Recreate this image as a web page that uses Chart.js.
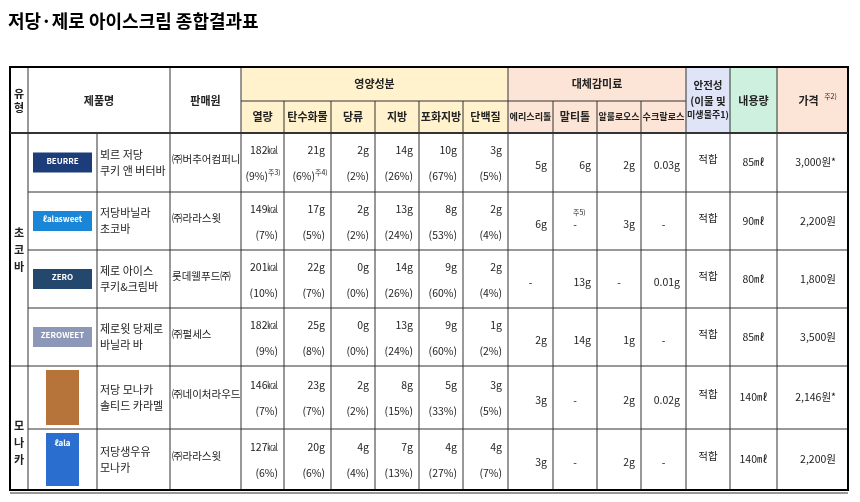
<!DOCTYPE html><html><head><meta charset="utf-8">
<script src="https://cdn.jsdelivr.net/npm/chart.js@4"></script>
<style>body{margin:0;background:#fff}</style></head><body>
<canvas id="c" width="860" height="502"></canvas>
<script>
const types=[["초","코","바"],["모","나","카"]];
const typeSpan=[4,2];
const names=[["뵈르 저당","쿠키 앤 버터바"],["저당바닐라","초코바"],["제로 아이스","쿠키&크림바"],["제로윗 당제로","바닐라 바"],["저당 모나카","솔티드 카라멜"],["저당생우유","모나카"]];
const sellers=["㈜버추어컴퍼니","㈜라라스윗","롯데웰푸드㈜","㈜펄세스","㈜네이처라우드","㈜라라스윗"];
const kcal=["182㎉","149㎉","201㎉","182㎉","146㎉","127㎉"];
const kcalPct=["(9%)","(7%)","(10%)","(9%)","(7%)","(6%)"];
const carb=["21g","17g","22g","25g","23g","20g"];
const carbPct=["(6%)","(5%)","(7%)","(8%)","(7%)","(6%)"];
const sugar=["2g","2g","0g","0g","2g","4g"];
const sugarPct=["(2%)","(2%)","(0%)","(0%)","(2%)","(4%)"];
const fat=["14g","13g","14g","13g","8g","7g"];
const fatPct=["(26%)","(24%)","(26%)","(24%)","(15%)","(13%)"];
const satfat=["10g","8g","9g","9g","5g","4g"];
const satfatPct=["(67%)","(53%)","(60%)","(60%)","(33%)","(27%)"];
const protein=["3g","2g","2g","1g","3g","4g"];
const proteinPct=["(5%)","(4%)","(4%)","(2%)","(5%)","(7%)"];
const erythritol=["5g","6g","-","2g","3g","3g"];
const maltitol=["6g","-","13g","14g","-","-"];
const allulose=["2g","3g","-","1g","2g","2g"];
const sucralose=["0.03g","-","0.01g","-","0.02g","-"];
const safety=["적합","적합","적합","적합","적합","적합"];
const volume=["85㎖","90㎖","80㎖","85㎖","140㎖","140㎖"];
const price=["3,000원*","2,200원","1,800원","3,500원","2,146원*","2,200원"];
const imgColors=["#1d3d7a","#1a86d8","#24476e","#8d98b8","#b7743a","#2a6fd0"];
const imgLabels=["BEURRE","ℓalasweet","ZERO","ZEROWEET","","ℓala"];

const X=[10,28,97,170,241,284,331,375,419,463,508,553,597,641,686,730,777,848];
const Y=[67,101,133,192,250,308,366,429,490];
const F='"Noto Sans CJK KR","Noto Sans",sans-serif';

const tablePlugin={id:'tbl',afterDraw(chart){
 const c=chart.ctx;c.save();
 c.fillStyle='#000';c.font='bold 18px '+F;c.textBaseline='middle';c.fillText('저당·제로 아이스크림 종합결과표',8,21);
 const fill=(x0,y0,x1,y1,col)=>{c.fillStyle=col;c.fillRect(x0,y0,x1-x0,y1-y0);};
 fill(X[4],Y[0],X[10],Y[2],'#fff2cc');
 fill(X[10],Y[0],X[14],Y[2],'#fce4d6');
 fill(X[14],Y[0],X[15],Y[2],'#dfe4f6');
 fill(X[15],Y[0],X[16],Y[2],'#cdf0df');
 fill(X[16],Y[0],X[17],Y[2],'#fce4d6');
 const line=(x0,y0,x1,y1,w)=>{c.strokeStyle='#333';c.lineWidth=w||1;c.beginPath();c.moveTo(x0,y0);c.lineTo(x1,y1);c.stroke();};
 line(X[4],Y[1],X[14],Y[1]);
 for(let r=3;r<8;r++){line(r===6?X[0]:X[1],Y[r],X[17],Y[r]);}
 [1,3,4,10,14,15,16].forEach(i=>line(X[i],Y[0],X[i],Y[8]));
 [5,6,7,8,9,11,12,13].forEach(i=>line(X[i],Y[1],X[i],Y[8]));
 line(X[2],Y[2],X[2],Y[8]);
 c.strokeStyle='#000';c.lineWidth=2;c.strokeRect(X[0],Y[0],X[17]-X[0],Y[8]-Y[0]);
 line(X[0],Y[2],X[17],Y[2],2);
 line(X[0],Y[8]+3,X[17],Y[8]+3,1);
 c.fillStyle='#222';c.textAlign='center';c.font='bold 11px '+F;
 c.fillText('유',19,94);c.fillText('형',19,108);
 c.fillText('제품명',(X[1]+X[3])/2,101);c.fillText('판매원',(X[3]+X[4])/2,101);
 c.fillText('영양성분',(X[4]+X[10])/2,84);c.fillText('대체감미료',(X[10]+X[14])/2,84);
 c.fillText('내용량',(X[15]+X[16])/2,101);c.fillText('가격',(X[16]+X[17])/2-4,101);
 c.font='7px '+F;c.fillText('주2)',(X[16]+X[17])/2+18,96);
 c.font='bold 10.5px '+F;c.fillText('안전성',(X[14]+X[15])/2,85);c.fillText('(이물 및',(X[14]+X[15])/2,101);
 c.font='bold 9px '+F;c.fillText('미생물주1)',(X[14]+X[15])/2,115);
 const subs=['열량','탄수화물','당류','지방','포화지방','단백질','에리스리톨','말티톨','알룰로오스','수크랄로스'];
 subs.forEach((s,i)=>{const w=X[5+i]-X[4+i];c.font='bold 11px '+F;let m=c.measureText(s).width;if(m>w-3){c.font='bold '+(11*(w-3)/m).toFixed(1)+'px '+F;}
  c.fillText(s,(X[4+i]+X[5+i])/2,117);});
 c.font='bold 11px '+F;
 let r0=0;types.forEach((t,k)=>{const yc=(Y[2+r0]+Y[2+r0+typeSpan[k]])/2;t.forEach((ch,j)=>c.fillText(ch,19,yc+(j-1)*17+(k?15:0)));r0+=typeSpan[k];});
 const pairs=[[kcal,kcalPct],[carb,carbPct],[sugar,sugarPct],[fat,fatPct],[satfat,satfatPct],[protein,proteinPct]];
 const single=[erythritol,maltitol,allulose,sucralose];
 for(let i=0;i<6;i++){
  const y0=Y[2+i],y1=Y[3+i],ym=(y0+y1)/2;
  c.fillStyle=imgColors[i];
  if(i<4){c.fillRect(X[1]+5,ym-10,X[2]-X[1]-10,20);} else {c.fillRect(X[1]+18,y0+4,X[2]-X[1]-36,y1-y0-8);}
  c.fillStyle='#fff';c.font='bold 8px '+F;c.textAlign='center';c.fillText(imgLabels[i],(X[1]+X[2])/2,i<4?ym-2:y0+14);
  c.fillStyle='#222';c.textAlign='left';c.font='11px '+F;
  c.fillText(names[i][0],X[2]+3,ym-8);c.fillText(names[i][1],X[2]+3,ym+8);
  c.font='10.5px '+F;c.fillText(sellers[i],X[3]+2,ym-3);
  c.textAlign='right';c.font='10.5px '+F;
  pairs.forEach((p,j)=>{c.fillText(p[0][i],X[5+j]-6,ym-12);c.fillText(p[1][i],X[5+j]-(i===0&&j<2?16:6),ym+14);});
  if(i===0){c.font='7px '+F;c.textAlign='left';c.fillText('주3)',X[5]-16,ym+10);c.fillText('주4)',X[6]-16,ym+10);c.textAlign='right';c.font='10.5px '+F;}
  single.forEach((s,j)=>{const v=s[i];if(v==='-'){c.textAlign='center';c.fillText('-',(X[10+j]+X[11+j])/2,ym+3);c.textAlign='right';}else c.fillText(v,X[11+j]-6,ym+3);});
  if(i===1){c.font='7px '+F;c.textAlign='left';c.fillText('주5)',X[11]+20,ym-9);c.font='10.5px '+F;}
  c.textAlign='center';c.fillText(safety[i],(X[14]+X[15])/2,ym-3);
  c.fillText(volume[i],(X[15]+X[16])/2,ym);
  c.textAlign='right';c.fillText(price[i],X[17]-12,ym);
 }
 c.restore();
}};
new Chart(document.getElementById('c'),{type:'bar',data:{labels:[],datasets:[]},
 options:{responsive:false,animation:false,devicePixelRatio:1,plugins:{legend:{display:false},tooltip:{enabled:false}},
 scales:{x:{display:false},y:{display:false}}},plugins:[tablePlugin]});
</script></body></html>
